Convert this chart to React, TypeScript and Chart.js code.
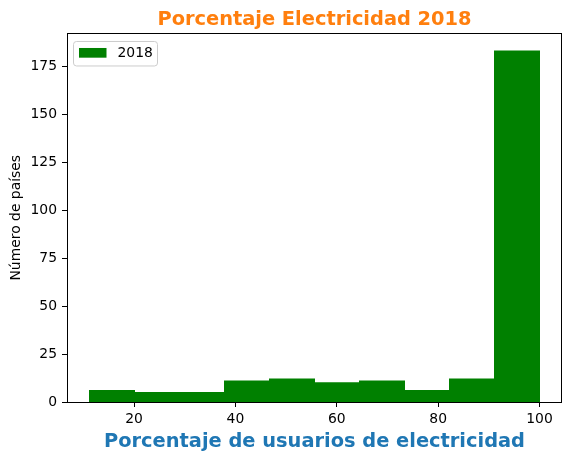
import { useEffect, useRef } from 'react'
import { Chart, ChartConfiguration, Plugin, registerables } from 'chart.js'

Chart.register(...registerables)

// centros de los 10 intervalos del histograma (11.2 .. 100)
const binCenters = [15.64, 24.52, 33.4, 42.28, 51.16, 60.04, 68.92, 77.8, 86.68, 95.56]
const counts = [6, 5, 5, 11, 12, 10, 11, 6, 12, 183]
const xTicks = [20, 40, 60, 80, 100]
const yTicks = [0, 25, 50, 75, 100, 125, 150, 175]
const seriesLabel = '2018'

const FONT = "'DejaVu Sans', sans-serif"

// marco completo + leyenda estilo matplotlib
const framePlugin: Plugin = {
  id: 'frame',
  afterDraw(chart) {
    const { ctx, chartArea } = chart
    const ds = chart.data.datasets[0]
    ctx.save()
    ctx.strokeStyle = '#000'
    ctx.lineWidth = 1
    const l = Math.round(chartArea.left) + 0.5
    const t = Math.round(chartArea.top) + 0.5
    const r = Math.round(chartArea.right) - 0.5
    const b = Math.round(chartArea.bottom) + 0.5
    ctx.strokeRect(l, t, r - l, b - t)

    // leyenda arriba a la izquierda
    const x = chartArea.left + 6
    const y = chartArea.top + 7.5
    const w = 84
    const h = 24.5
    ctx.beginPath()
    ctx.roundRect(x + 0.5, y + 0.5, w, h, 3)
    ctx.fillStyle = 'rgba(255,255,255,0.8)'
    ctx.fill()
    ctx.strokeStyle = '#cccccc'
    ctx.stroke()
    ctx.fillStyle = ds.backgroundColor as string
    ctx.fillRect(x + 6, y + 7, 27.5, 9.7)
    ctx.fillStyle = '#000'
    ctx.font = `13.9px ${FONT}`
    ctx.textBaseline = 'middle'
    ctx.fillText(ds.label ?? '', x + 44.5, y + 12.5)
    ctx.restore()
  },
}

export default function App() {
  const canvasRef = useRef<HTMLCanvasElement>(null)

  useEffect(() => {
    if (!canvasRef.current) return
    const ctx = canvasRef.current.getContext('2d')
    if (!ctx) return

    const config: ChartConfiguration = {
      type: 'bar',
      data: {
        datasets: [
          {
            label: seriesLabel,
            data: binCenters.map((c, i) => ({ x: c, y: counts[i] })),
            backgroundColor: 'green',
            borderWidth: 0,
            inflateAmount: 0.5,
            barPercentage: 1,
            categoryPercentage: 1,
          },
        ],
      },
      options: {
        responsive: true,
        maintainAspectRatio: false,
        animation: false,
        events: [],
        layout: { padding: { right: 10 } },
        plugins: {
          legend: { display: false },
          tooltip: { enabled: false },
          title: {
            display: true,
            text: 'Porcentaje Electricidad 2018',
            color: '#ff7f0e',
            fullSize: false,
            font: { family: FONT, size: 19.4, weight: 'bold', lineHeight: 1.2 },
            padding: { top: 8, bottom: 2.2 },
          },
        },
        scales: {
          x: {
            type: 'linear',
            min: 6.76,
            max: 104.44,
            offset: false,
            afterBuildTicks: scale => {
              scale.ticks = xTicks.map(v => ({ value: v }))
            },
            afterFit: scale => {
              scale.height = 59
            },
            grid: {
              drawOnChartArea: false,
              drawTicks: true,
              tickLength: 5,
              tickColor: '#000',
              offset: false,
            },
            border: { display: false },
            ticks: {
              color: '#000',
              padding: 4,
              maxRotation: 0,
              font: { family: FONT, size: 13.9 },
            },
            title: {
              display: true,
              text: 'Porcentaje de usuarios de electricidad',
              color: '#1f77b4',
              font: { family: FONT, size: 19.4, weight: 'bold', lineHeight: 1.2 },
              padding: { top: 0, bottom: 7.5 },
            },
          },
          y: {
            type: 'linear',
            min: 0,
            max: 192.15,
            afterBuildTicks: scale => {
              scale.ticks = yTicks.map(v => ({ value: v }))
            },
            afterFit: scale => {
              scale.width = 67
            },
            grid: {
              drawOnChartArea: false,
              drawTicks: true,
              tickLength: 5,
              tickColor: '#000',
            },
            border: { display: false },
            ticks: {
              color: '#000',
              padding: 5,
              font: { family: FONT, size: 13.9 },
            },
            title: {
              display: true,
              text: 'Número de países',
              color: '#000',
              font: { family: FONT, size: 13.9, lineHeight: 1.2 },
              padding: { top: 8.5, bottom: 0 },
            },
          },
        },
      },
      plugins: [framePlugin],
    }

    const chart = new Chart(ctx, config)
    return () => {
      chart.destroy()
    }
  }, [])

  return (
    <div style={{ position: 'absolute', left: 0, top: 0, width: 572, height: 461, background: '#fff' }}>
      <canvas ref={canvasRef} />
    </div>
  )
}
